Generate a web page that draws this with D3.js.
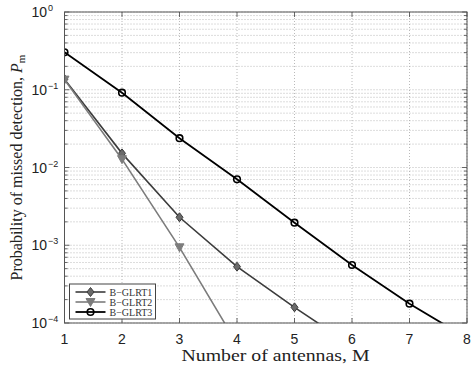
<!DOCTYPE html>
<html>
<head>
<meta charset="utf-8">
<script src="https://cdn.jsdelivr.net/npm/d3@7"></script>
<style>
  body { margin: 0; background: #fff; }
  svg { display: block; }
</style>
</head>
<body>
<div id="chart"></div>
<script>
// values
var antennas = [1, 2, 3, 4, 5, 6, 7, 8]
var glrt1 = [0.137, 0.0152, 0.00229, 0.00053, 0.000159, 0.000051]
var glrt2 = [0.135, 0.0128, 0.00094, 0.000054]
var glrt3 = [0.303, 0.0916, 0.0238, 0.00705, 0.00195, 0.000557, 0.000177, 0.000064]
var seriesNames = ['B\u2212GLRT1', 'B\u2212GLRT2', 'B\u2212GLRT3']
var yTickExps = [0, -1, -2, -3, -4]
var xTicks = [1, 2, 3, 4, 5, 6, 7, 8]

var series = [
  { name: seriesNames[0], values: glrt1, color: '#3c3c3c', marker: 'diamond', fill: '#6a6a6a', width: 1.6 },
  { name: seriesNames[1], values: glrt2, color: '#7c7c7c', marker: 'triangle', fill: '#7c7c7c', width: 1.6 },
  { name: seriesNames[2], values: glrt3, color: '#000000', marker: 'circle', fill: 'none', width: 1.8 }
]

var margin = { top: 12, left: 64.5, right: 7, bottom: 66 }
var totalW = 474
var totalH = 389
var width = totalW - margin.left - margin.right
var height = totalH - margin.top - margin.bottom

var svg = d3.select('#chart')
  .append('svg')
  .attr('width', totalW)
  .attr('height', totalH)

var g = svg.append('g')
  .attr('transform', `translate(${margin.left}, ${margin.top})`)

var xPositionScale = d3.scaleLinear().domain([1, 8]).range([0, width])
var yPositionScale = d3.scaleLog().domain([1e-4, 1]).range([height, 0])

g.append('clipPath')
  .attr('id', 'plot-clip')
  .append('rect')
  .attr('width', width)
  .attr('height', height)

// grid: major + minor decades
var minorVals = []
for (var e = -4; e < 0; e++) {
  for (var k = 1; k <= 9; k++) minorVals.push(k * Math.pow(10, e))
}
minorVals.push(1)

g.append('g')
  .selectAll('line')
  .data(minorVals)
  .enter()
  .append('line')
  .attr('x1', 0)
  .attr('x2', width)
  .attr('y1', d => yPositionScale(d))
  .attr('y2', d => yPositionScale(d))
  .attr('stroke', '#a8a8a8')
  .attr('stroke-width', 0.8)
  .attr('stroke-dasharray', '1,2')

g.append('g')
  .selectAll('line')
  .data(xTicks)
  .enter()
  .append('line')
  .attr('x1', d => xPositionScale(d))
  .attr('x2', d => xPositionScale(d))
  .attr('y1', 0)
  .attr('y2', height)
  .attr('stroke', '#a8a8a8')
  .attr('stroke-width', 0.8)
  .attr('stroke-dasharray', '1,2')

// inner ticks on all four sides
var tickG = g.append('g').attr('stroke', '#444').attr('stroke-width', 0.8)
minorVals.forEach(function(v) {
  var len = Number.isInteger(Math.log10(v)) ? 5 : 3
  var y = yPositionScale(v)
  tickG.append('line').attr('x1', 0).attr('x2', len).attr('y1', y).attr('y2', y)
  tickG.append('line').attr('x1', width).attr('x2', width - len).attr('y1', y).attr('y2', y)
})
xTicks.forEach(function(v) {
  var x = xPositionScale(v)
  tickG.append('line').attr('x1', x).attr('x2', x).attr('y1', height).attr('y2', height - 5)
  tickG.append('line').attr('x1', x).attr('x2', x).attr('y1', 0).attr('y2', 5)
})

// lines and markers
var line = d3.line()
  .x((d, i) => xPositionScale(antennas[i]))
  .y(d => yPositionScale(d))

var plot = g.append('g').attr('clip-path', 'url(#plot-clip)')

function drawMarker(sel, s, x, y) {
  if (s.marker === 'circle') {
    sel.append('circle')
      .attr('cx', x).attr('cy', y).attr('r', 3.3)
      .attr('fill', 'none').attr('stroke', s.color).attr('stroke-width', 1.6)
  } else if (s.marker === 'diamond') {
    sel.append('path')
      .attr('d', `M${x},${y - 4.5}L${x + 3.5},${y}L${x},${y + 4.5}L${x - 3.5},${y}Z`)
      .attr('fill', s.fill).attr('stroke', s.color).attr('stroke-width', 1)
  } else {
    sel.append('path')
      .attr('d', `M${x - 4.5},${y - 3.5}L${x + 4.5},${y - 3.5}L${x},${y + 4.5}Z`)
      .attr('fill', s.fill).attr('stroke', s.color).attr('stroke-width', 1)
  }
}

series.forEach(function(s) {
  plot.append('path')
    .datum(s.values)
    .attr('d', line)
    .attr('fill', 'none')
    .attr('stroke', s.color)
    .attr('stroke-width', s.width)
  s.values.forEach(function(v, i) {
    if (v >= 1e-4) drawMarker(plot, s, xPositionScale(antennas[i]), yPositionScale(v))
  })
})

// frame
g.append('rect')
  .attr('width', width)
  .attr('height', height)
  .attr('fill', 'none')
  .attr('stroke', '#555')
  .attr('stroke-width', 1)

// tick labels
var labelFont = '"Liberation Sans", Arial, sans-serif'
g.append('g')
  .selectAll('text')
  .data(xTicks)
  .enter()
  .append('text')
  .attr('x', d => xPositionScale(d))
  .attr('y', height + 21)
  .attr('text-anchor', 'middle')
  .attr('font-family', labelFont)
  .attr('font-size', 14)
  .attr('fill', '#222')
  .text(d => d)

var yLabels = g.append('g')
  .selectAll('text')
  .data(yTickExps)
  .enter()
  .append('text')
  .attr('x', -33)
  .attr('y', d => yPositionScale(Math.pow(10, d)) + 5)
  .attr('font-family', labelFont)
  .attr('font-size', 14)
  .attr('fill', '#222')
yLabels.append('tspan').text('10')
yLabels.append('tspan')
  .attr('dy', -6)
  .attr('dx', 1)
  .attr('font-size', 9)
  .text(d => (d < 0 ? '\u2212' + (-d) : d))

// axis titles
var titleFont = '"Liberation Serif", "DejaVu Serif", serif'
g.append('text')
  .attr('x', 211)
  .attr('y', height + 38)
  .attr('text-anchor', 'middle')
  .attr('font-family', titleFont)
  .attr('font-size', 16)
  .attr('fill', '#222')
  .attr('textLength', 188)
  .attr('lengthAdjust', 'spacingAndGlyphs')
  .text('Number of antennas, M')

var yTitle = g.append('text')
  .attr('transform', `translate(${-43}, ${height / 2}) rotate(-90)`)
  .attr('text-anchor', 'middle')
  .attr('font-family', titleFont)
  .attr('font-size', 16)
  .attr('fill', '#222')
yTitle.append('tspan').text('Probability of missed detection, ')
yTitle.append('tspan').attr('font-style', 'italic').text('P')
yTitle.append('tspan').attr('font-size', 11).attr('dy', 3).text('m')

// legend
var legend = g.append('g').attr('transform', 'translate(5, 272)')
legend.append('rect')
  .attr('width', 86)
  .attr('height', 35)
  .attr('fill', '#fff')
  .attr('stroke', '#444')
  .attr('stroke-width', 1)

series.forEach(function(s, i) {
  var y = 8 + i * 10
  legend.append('line')
    .attr('x1', 6).attr('x2', 36)
    .attr('y1', y).attr('y2', y)
    .attr('stroke', s.color)
    .attr('stroke-width', s.width)
  drawMarker(legend, s, 21, y)
  legend.append('text')
    .attr('x', 40)
    .attr('y', y + 3.5)
    .attr('font-family', titleFont)
    .attr('font-size', 10)
    .attr('fill', '#333')
    .text(s.name)
})
</script>
</body>
</html>
